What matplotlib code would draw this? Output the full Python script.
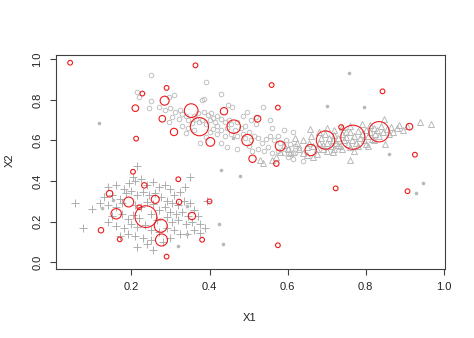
import matplotlib
matplotlib.use("Agg")
import matplotlib.pyplot as plt
import numpy as np

plt.rcParams['font.family'] = ['Liberation Sans', 'DejaVu Sans']

# ---- data ----
cross_x = [0.056,0.099,0.077,0.214,0.350,0.338,0.215,0.256,0.393,0.389,0.376,0.342,
           0.140,0.160,0.180,0.195,0.205,0.210,0.225,0.240,0.255,0.270,0.285,0.300,0.310,0.325,
           0.130,0.150,0.170,0.185,0.200,0.215,0.230,0.245,0.260,0.275,0.290,0.305,0.320,0.335,0.350,
           0.120,0.140,0.160,0.175,0.210,0.225,0.240,0.255,0.270,0.285,0.300,0.315,0.330,0.345,0.360,0.370,
           0.150,0.175,0.190,0.205,0.220,0.250,0.265,0.290,0.305,0.320,0.340,0.355,0.375,
           0.140,0.160,0.180,0.200,0.215,0.235,0.250,0.270,0.290,0.310,0.325,0.360,
           0.190,0.210,0.230,0.250,0.280,0.300,0.170,0.240]
cross_y = [0.291,0.263,0.167,0.474,0.422,0.372,0.077,0.061,0.300,0.167,0.143,0.138,
           0.370,0.380,0.360,0.390,0.420,0.400,0.410,0.380,0.395,0.370,0.380,0.360,0.330,0.345,
           0.320,0.330,0.310,0.340,0.350,0.330,0.345,0.330,0.340,0.320,0.300,0.290,0.280,0.300,0.290,
           0.290,0.280,0.270,0.290,0.280,0.270,0.295,0.285,0.260,0.270,0.250,0.240,0.250,0.230,0.260,0.230,
           0.230,0.240,0.215,0.235,0.220,0.240,0.210,0.225,0.200,0.210,0.190,0.200,0.190,
           0.200,0.180,0.170,0.190,0.175,0.185,0.160,0.150,0.170,0.160,0.140,0.160,
           0.140,0.130,0.120,0.110,0.100,0.120,0.130,0.090]

circ_x = [0.250,0.391,0.429,0.215,0.220,0.308,0.295,0.250,0.246,0.380,0.386,0.446,0.457,0.538,
          0.270,0.285,0.300,0.312,0.325,0.330,0.340,0.322,0.305,0.295,0.345,0.360,0.370,0.385,
          0.395,0.405,0.410,0.420,0.430,0.415,0.400,0.390,0.380,0.372,0.365,0.355,0.345,0.360,
          0.340,0.330,0.440,0.450,0.455,0.470,0.445,0.430,0.420,0.410,0.465,0.480,0.490,0.500,
          0.485,0.470,0.455,0.440,0.420,0.400,0.390,0.375,0.430,0.445,0.470,0.490,0.505,0.515,
          0.525,0.535,0.545,0.555,0.565,0.575,0.580,0.595,0.605,0.620,0.630,0.550,0.540,0.525,
          0.510,0.500,0.560,0.575,0.590,0.600,0.615,0.640,0.600,0.620,0.485,0.505,0.520,0.560,
          0.590,0.615,0.495,0.520,0.555]
circ_y = [0.923,0.888,0.831,0.837,0.816,0.824,0.812,0.795,0.759,0.800,0.803,0.776,0.767,0.764,
          0.765,0.748,0.760,0.742,0.750,0.728,0.720,0.705,0.715,0.690,0.700,0.720,0.735,0.740,
          0.725,0.735,0.710,0.720,0.705,0.690,0.700,0.680,0.700,0.690,0.705,0.685,0.660,0.650,
          0.635,0.670,0.690,0.700,0.680,0.690,0.660,0.650,0.670,0.655,0.650,0.660,0.670,0.640,
          0.630,0.620,0.630,0.620,0.630,0.640,0.615,0.590,0.590,0.570,0.560,0.610,0.600,0.620,
          0.610,0.590,0.605,0.620,0.600,0.620,0.590,0.600,0.585,0.575,0.565,0.570,0.550,0.560,
          0.550,0.575,0.540,0.550,0.540,0.520,0.510,0.500,0.560,0.540,0.720,0.700,0.680,0.660,
          0.650,0.640,0.740,0.715,0.700]

tri_x = [0.938,0.967,0.847,0.880,0.760,0.807,0.850,0.538,0.530,0.658,0.666,0.624,0.606,0.811,
         0.600,0.615,0.630,0.640,0.650,0.655,0.665,0.675,0.680,0.685,0.690,0.695,0.700,0.705,
         0.710,0.715,0.720,0.725,0.730,0.735,0.740,0.745,0.750,0.755,0.760,0.765,0.770,0.775,
         0.780,0.785,0.790,0.795,0.800,0.805,0.810,0.815,0.820,0.825,0.830,0.835,0.840,0.845,
         0.855,0.860,0.865,0.870,0.885,0.895,0.905,0.690,0.700,0.720,0.740,0.760,0.780,0.800,
         0.680,0.700,0.720,0.740,0.760,0.790,0.640,0.660,0.620,0.590,0.580,0.570,0.560,0.650,
         0.675,0.715,0.770,0.820,0.750,0.730]
tri_y = [0.691,0.680,0.707,0.660,0.504,0.573,0.584,0.491,0.505,0.655,0.520,0.586,0.537,0.676,
         0.560,0.545,0.560,0.540,0.570,0.590,0.575,0.560,0.590,0.610,0.580,0.630,0.590,0.610,
         0.575,0.600,0.625,0.590,0.610,0.575,0.630,0.600,0.615,0.585,0.640,0.600,0.620,0.590,
         0.645,0.610,0.630,0.600,0.650,0.620,0.640,0.605,0.660,0.630,0.650,0.620,0.670,0.640,
         0.655,0.630,0.665,0.640,0.675,0.650,0.670,0.560,0.550,0.560,0.560,0.570,0.575,0.585,
         0.640,0.660,0.650,0.665,0.670,0.680,0.600,0.620,0.610,0.580,0.545,0.520,0.505,0.530,
         0.535,0.545,0.550,0.600,0.640,0.580]

dot_x = [0.758,0.702,0.796,0.116,0.860,0.429,0.478,0.946,0.930,0.423,0.434,0.319,0.343,0.125,
         0.460,0.342,0.152]
dot_y = [0.931,0.768,0.765,0.685,0.532,0.453,0.425,0.392,0.341,0.190,0.092,0.080,0.279,0.266,
         0.614,0.138,0.307]

red_x = [0.043,0.364,0.559,0.843,0.290,0.228,0.210,0.575,0.285,0.279,0.353,0.374,0.437,0.309,
         0.462,0.402,0.523,0.497,0.212,0.581,0.510,0.571,0.659,0.697,0.767,0.834,0.737,0.912,
         0.926,0.723,0.907,0.575,0.204,0.320,0.233,0.144,0.261,0.193,0.322,0.400,0.161,0.237,
         0.220,0.355,0.275,0.122,0.170,0.277,0.381,0.290]
red_y = [0.983,0.970,0.873,0.842,0.859,0.831,0.759,0.762,0.796,0.707,0.747,0.668,0.744,0.642,
         0.668,0.593,0.707,0.602,0.609,0.573,0.510,0.486,0.553,0.602,0.616,0.643,0.666,0.668,
         0.530,0.364,0.350,0.084,0.446,0.409,0.379,0.338,0.310,0.297,0.297,0.300,0.239,0.225,
         0.271,0.228,0.180,0.158,0.113,0.110,0.111,0.028]
red_cex = [1,1,1,1,1,1,1.4,1,1.9,1.4,2.9,3.85,1.55,1.55,2.85,1.85,1.4,2.4,1,2.1,1.55,1.15,2.4,
           3.9,5.1,4.3,1,1.4,1,1,1,1,1,1,1.15,1.4,1.7,2.1,1.15,1,2.2,4.6,1,1.55,2.75,1.15,1,
           2.55,1,1]

x_ticks = [0.2, 0.4, 0.6, 0.8, 1.0]
y_ticks = [0.0, 0.2, 0.4, 0.6, 0.8, 1.0]

# ---- figure ----
W, H = 474, 338
fig = plt.figure(figsize=(W/100, H/100), dpi=100)
ax = fig.add_axes([55.7/W, 1-268.7/H, (445-55.7)/W, (268.7-55)/H])

ax.plot(cross_x, cross_y, linestyle='none', marker='+', markersize=5.2,
        markeredgewidth=0.65, color='#a9a9a9')
ax.plot(circ_x, circ_y, linestyle='none', marker='o', markersize=3.3,
        markerfacecolor='none', markeredgewidth=0.65, markeredgecolor='#bcbcbc')
ax.plot(tri_x, tri_y, linestyle='none', marker='^', markersize=4.6,
        markerfacecolor='none', markeredgewidth=0.65, markeredgecolor='#b4b4b4')
ax.plot(dot_x, dot_y, linestyle='none', marker='o', markersize=2.6,
        markerfacecolor='#b8b8b8', markeredgewidth=0, color='#b8b8b8')
ax.scatter(red_x, red_y, s=(3.4*np.array(red_cex))**2, facecolors='none',
           edgecolors='#ee1c1c', linewidths=0.8, zorder=5)

ax.set_xlim(0.006, 1.003)
ax.set_ylim(-0.0315, 1.021)
ax.set_xticks(x_ticks)
ax.set_xticklabels([f"{v:.1f}" for v in x_ticks])
ax.set_yticks(y_ticks)
ax.set_yticklabels([f"{v:.1f}" for v in y_ticks], rotation=90, va='center')
for s in ax.spines.values():
    s.set_color('#404040')
    s.set_linewidth(0.8)
ax.tick_params(direction='out', length=4, width=0.8, color='#404040',
               labelsize=8, labelcolor='#222222', pad=5.5)

fig.text(250/W, 1-318/H, 'X1', ha='center', va='center', fontsize=8, color='#222222')
fig.text(10/W, 1-160/H, 'X2', ha='center', va='center', rotation=90, fontsize=8, color='#222222')

fig.savefig('out.png', dpi=100)
